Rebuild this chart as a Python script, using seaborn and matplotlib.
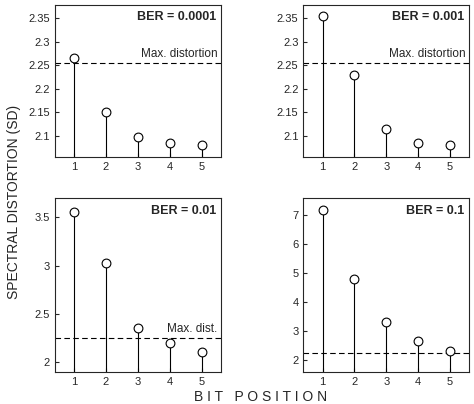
import matplotlib
matplotlib.use("Agg")
import matplotlib.pyplot as plt
import seaborn as sns
import pandas as pd

bits = [1, 2, 3, 4, 5]
sd_0001 = [2.265, 2.15, 2.097, 2.085, 2.08]
sd_001 = [2.355, 2.228, 2.115, 2.085, 2.08]
sd_01 = [3.55, 3.03, 2.35, 2.2, 2.1]
sd_1 = [7.2, 4.8, 3.3, 2.65, 2.3]
max_dist = [2.255, 2.255, 2.25, 2.25]
bers = ["BER = 0.0001", "BER = 0.001", "BER = 0.01", "BER = 0.1"]
max_labels = ["Max. distortion", "Max. distortion", "Max. dist.", None]
ylims = [(2.055, 2.378), (2.055, 2.378), (1.9, 3.7), (1.6, 7.6)]
yticks = [[2.1, 2.15, 2.2, 2.25, 2.3, 2.35], [2.1, 2.15, 2.2, 2.25, 2.3, 2.35],
          [2, 2.5, 3, 3.5], [2, 3, 4, 5, 6, 7]]
series = [sd_0001, sd_001, sd_01, sd_1]

sns.set_style("ticks")
plt.rcParams["font.family"] = ["Liberation Sans", "DejaVu Sans"]
fig = plt.figure(figsize=(4.74, 4.04), dpi=100)
rects = [(0.116, 0.612, 0.35, 0.376), (0.64, 0.612, 0.35, 0.376),
         (0.116, 0.08, 0.35, 0.43), (0.64, 0.08, 0.35, 0.43)]

for i in range(4):
    ax = fig.add_axes(rects[i])
    df = pd.DataFrame({"bit": bits, "sd": series[i]})
    lo, hi = ylims[i]
    ax.vlines(df["bit"], lo, df["sd"], color="black", lw=0.8)
    sns.scatterplot(data=df, x="bit", y="sd", ax=ax, s=40, facecolor="white",
                    edgecolor="black", linewidth=0.8, zorder=3)
    ax.axhline(max_dist[i], color="black", ls=(0, (5, 3)), lw=0.8)
    ax.set_xlim(0.4, 5.6)
    ax.set_ylim(lo, hi)
    ax.set_xticks(bits)
    ax.set_yticks(yticks[i])
    ax.set_yticklabels([f"{t:g}" for t in yticks[i]])
    ax.tick_params(labelsize=8, direction="in", length=3)
    ax.set_xlabel("")
    ax.set_ylabel("")
    for s in ax.spines.values():
        s.set_visible(True)
        s.set_linewidth(0.8)
    ax.text(0.97, 0.96, bers[i], transform=ax.transAxes, ha="right", va="top",
            fontsize=9, fontweight="bold")
    if max_labels[i]:
        ax.text(5.5, max_dist[i] + (hi - lo) * 0.015, max_labels[i], ha="right",
                va="bottom", fontsize=8.5)

fig.text(0.015, 0.5, "SPECTRAL DISTORTION (SD)", rotation=90, ha="left",
         va="center", fontsize=10)
fig.text(0.55, 0.0, "B I T   P O S I T I O N", ha="center", va="bottom", fontsize=10)
fig.savefig("out.png", dpi=100)
